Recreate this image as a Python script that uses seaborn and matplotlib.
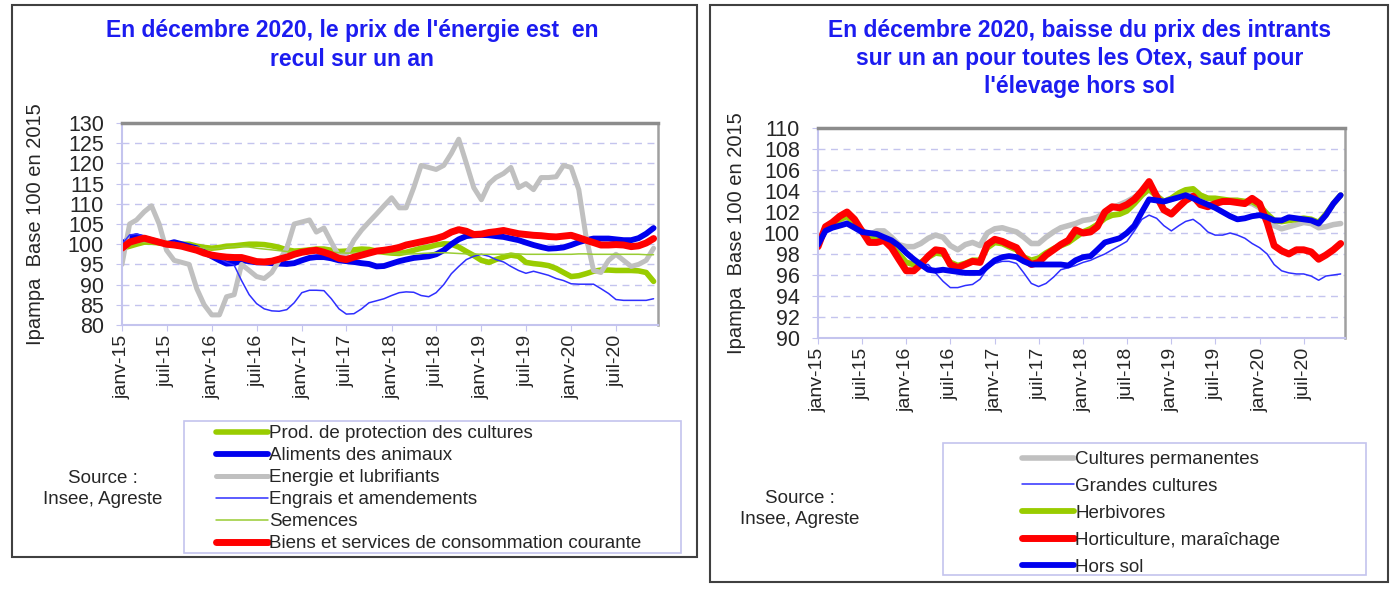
import pandas as pd
import seaborn as sns
import matplotlib.pyplot as plt
from matplotlib.patches import Rectangle

# Mois : janv-15 à déc-20
mois = pd.date_range("2015-01-01", periods=72, freq="MS")
etiquettes = ["janv-15", "juil-15", "janv-16", "juil-16", "janv-17", "juil-17",
              "janv-18", "juil-18", "janv-19", "juil-19", "janv-20", "juil-20"]

# --- Graphique de gauche : par poste de dépense ---
protection = [99, 99.5, 100, 100.5, 100.5, 100.3, 100.2, 100, 100, 100, 99.5, 99.2,
              99, 99.2, 99.5, 99.6, 99.8, 100, 100, 99.9, 99.6, 99.2, 98.6, 98.3,
              98.4, 98.6, 98.8, 98.8, 98.5, 98.2, 98.3, 98.6, 98.8, 98.7, 98.3, 98,
              97.8, 97.7, 98, 98.5, 99, 99.3, 99.8, 100.1, 100, 99.3, 98.2, 97.2,
              96, 95.5, 96.2, 96.8, 97.3, 97, 95.5, 95.2, 95, 94.7, 94, 93,
              92, 92.2, 92.7, 93.3, 93.6, 93.6, 93.5, 93.5, 93.5, 93.4, 93, 90.8]
aliments = [100, 101.5, 102, 101.5, 101, 100.5, 100, 100.5, 100, 99.5, 99, 98,
            97, 96, 95.2, 95.3, 96, 95.8, 95.5, 95.5, 95.3, 95.2, 95.1, 95.3,
            96, 96.6, 96.8, 96.8, 96.5, 96, 95.8, 95.6, 95.3, 95.1, 94.5, 94.6,
            95.2, 95.8, 96.2, 96.6, 96.8, 97, 97.5, 98.5, 100, 101.2, 102, 102.2,
            102.3, 102.2, 102, 101.8, 101.4, 101, 100.4, 99.8, 99.3, 98.9, 99, 99.2,
            99.8, 100.5, 101, 101.4, 101.4, 101.4, 101.2, 101, 101, 101.5, 102.6, 104]
energie = [95, 105, 106, 108, 109.5, 105, 98.5, 96, 95.5, 95, 89, 85,
           82.5, 82.5, 87, 87.5, 95, 93.5, 92, 91.5, 93, 96, 99, 105,
           105.5, 106, 103, 104, 100.5, 97, 97.5, 101, 103.5, 105.5, 107.5, 109.5,
           111.5, 109, 109, 114, 119.5, 119, 118.5, 119.5, 122.5, 126, 120, 114,
           111, 115, 116.5, 117.5, 119, 114, 115, 113.5, 116.5, 116.5, 116.7, 119.5,
           119, 113.5, 102, 93.5, 93, 96, 97.5, 96, 94.5, 95, 96, 99]
engrais = [100, 102.3, 102.5, 102, 101, 100, 100, 100.5, 99.5, 99, 98.5, 97.5,
           97, 96.5, 95.5, 94.8, 91, 87.5, 85.3, 84, 83.5, 83.4, 83.8, 85.5,
           88, 88.6, 88.6, 88.5, 86.5, 84, 82.7, 82.8, 84, 85.5, 86, 86.5,
           87.3, 88, 88.2, 88.1, 87.3, 87, 88, 90, 92.7, 94.5, 96.2, 97,
           97.5, 97, 96.2, 95.6, 94.5, 93.5, 92.8, 93.3, 92.8, 92.3, 91.5, 91,
           90.2, 90.1, 90.1, 90.1, 89, 87.8, 86.3, 86.1, 86.1, 86.1, 86.1, 86.5]
semences = [99.5, 100, 100.3, 100.5, 100.3, 100, 100, 99.8, 99.7, 99.6, 99.3, 99,
            98.8, 99, 99.3, 99.5, 99.5, 99.3, 99, 98.8, 98.6, 98.4, 98.2, 98.2,
            98.3, 98.4, 98.4, 98.3, 98.1, 97.9, 97.8, 97.8, 97.9, 97.9, 97.8, 97.7,
            97.6, 97.6, 97.6, 97.6, 97.7, 97.8, 97.9, 97.9, 97.8, 97.7, 97.6, 97.6,
            97.5, 97.5, 97.5, 97.5, 97.6, 97.6, 97.5, 97.5, 97.5, 97.5, 97.5, 97.5,
            97.5, 97.6, 97.6, 97.5, 97.5, 97.5, 97.5, 97.5, 97.5, 97.5, 97.4, 97.4]
biens = [99, 100.5, 101, 101.5, 101, 100.5, 100, 99.8, 99.5, 99, 98.5, 97.8,
         97.3, 97, 96.8, 96.7, 96.7, 96.2, 95.7, 95.6, 95.8, 96.3, 96.8, 97.5,
         98, 98.3, 98.5, 98, 97.4, 96.5, 96.2, 96.8, 97.3, 97.8, 98.3, 98.5,
         98.8, 99.2, 99.8, 100.2, 100.6, 101, 101.4, 102, 103, 103.6, 103.2, 102.4,
         102.5, 102.9, 103.1, 103.4, 103, 102.6, 102.4, 102.2, 102.1, 101.9, 101.8, 102,
         102.2, 101.6, 101, 100.4, 99.8, 99.8, 99.9, 99.8, 99.4, 99.6, 100.3, 101.4]

# --- Graphique de droite : par orientation technico-économique ---
permanentes = [98.8, 100.4, 100.8, 101.1, 101.4, 100.9, 100.3, 99.8, 100.2, 100.2, 99.6, 98.9,
               98.7, 98.7, 99, 99.5, 99.8, 99.6, 98.8, 98.4, 98.9, 99.1, 98.8, 100,
               100.4, 100.5, 100.3, 100.1, 99.6, 99, 99, 99.6, 100.1, 100.5, 100.7, 100.9,
               101.2, 101.3, 101.5, 102, 102.4, 102.7, 103, 103.4, 103.8, 104.1, 103.6, 103,
               103.2, 103.6, 103.9, 104, 103.6, 103.3, 103.2, 103.1, 103.1, 103.1, 102.9, 102.8,
               102.4, 101.5, 100.7, 100.4, 100.6, 100.8, 101, 100.9, 100.5, 100.6, 100.8, 100.9]
grandes = [99, 100.2, 100.5, 100.8, 100.9, 100.5, 100.1, 100, 99.9, 99.6, 99.2, 98.7,
           98, 97.4, 97, 97, 96.2, 95.4, 94.8, 94.8, 95, 95.1, 95.6, 96.6,
           97.1, 97.3, 97.3, 97.1, 96.2, 95.2, 94.9, 95.2, 95.8, 96.5, 96.7, 96.9,
           97.2, 97.4, 97.7, 98, 98.4, 98.8, 99.2, 100.2, 101.3, 101.7, 101.4, 100.7,
           100.2, 100.7, 101.1, 101.3, 100.8, 100.1, 99.8, 99.8, 100, 99.8, 99.5, 99,
           98.6, 98, 97, 96.4, 96.2, 96.1, 96.1, 95.9, 95.5, 95.9, 96, 96.1]
herbivores = [98.8, 100.5, 100.9, 101.3, 101.6, 101, 100.2, 99.6, 99.5, 99.4, 98.8, 98,
              97.2, 97, 97.2, 97.7, 98.1, 98, 97.2, 96.9, 97.1, 97.4, 97.4, 98.6,
              99.1, 99, 98.7, 98.4, 97.7, 97.4, 97.6, 98.1, 98.5, 98.8, 99.1, 99.6,
              100.1, 100.4, 100.8, 101.4, 101.7, 101.8, 102.1, 102.8, 103.6, 104.2, 103.5, 103,
              103.3, 103.8, 104.1, 104.2, 103.6, 103.3, 103.3, 103.2, 103.1, 103.1, 103, 103,
              102.6, 101.8, 101.2, 101.1, 101.2, 101.3, 101.4, 101.3, 101, 101.8, 102.8, 103.6]
horticulture = [98.7, 100.6, 101, 101.6, 102, 101.3, 100.2, 99.1, 99.1, 99.3, 98.6, 97.5,
                96.4, 96.4, 97, 97.8, 98.4, 98.3, 97, 96.7, 97, 97.3, 97.2, 98.9,
                99.4, 99.2, 98.9, 98.6, 97.6, 97, 97.2, 97.9, 98.4, 98.9, 99.3, 100.3,
                100, 100.1, 100.6, 102, 102.5, 102.4, 102.7, 103.2, 104, 104.9, 103.5, 102.2,
                101.8, 102.5, 103.1, 103.5, 102.7, 102.5, 102.8, 103, 103, 102.9, 102.8, 103.3,
                102.8, 101, 98.8, 98.3, 98, 98.4, 98.4, 98.2, 97.5, 97.9, 98.4, 99]
hors_sol = [98.9, 100.2, 100.5, 100.7, 100.9, 100.5, 100.1, 100, 99.9, 99.6, 99.3, 98.8,
            98.1, 97.5, 97, 96.5, 96.4, 96.5, 96.4, 96.3, 96.2, 96.2, 96.2, 96.8,
            97.4, 97.7, 97.8, 97.7, 97.3, 97, 97, 97, 97, 97, 96.9, 97.4,
            97.7, 97.8, 98.4, 99.1, 99.3, 99.5, 100, 100.7, 102, 103.2, 103.1, 103,
            103.2, 103.4, 103.6, 103.3, 103, 102.7, 102.4, 102, 101.6, 101.3, 101.4, 101.6,
            101.7, 101.5, 101.2, 101.2, 101.5, 101.4, 101.3, 101.2, 100.9, 101.7, 102.8, 103.6]

sns.set_style("white")
plt.rcParams['font.family'] = ['Liberation Sans', 'DejaVu Sans']

BLEU_TITRE = "#1c1cf0"
LAVANDE = "#c4c4ee"

fig = plt.figure(figsize=(14, 5.97), dpi=100)
W, H = 1400, 597


def fx(px):
    return px / W


def fy(py):
    return 1 - py / H


def cadre(x0, y0, x1, y1, couleur, lw):
    fig.add_artist(Rectangle((fx(x0), fy(y1)), fx(x1 - x0), (y1 - y0) / H,
                             transform=fig.transFigure, fill=False,
                             edgecolor=couleur, linewidth=lw))


def habiller(ax, ymin, ymax, pas):
    ax.set_xlim(mois[0], mois[-1] + pd.Timedelta(days=18))
    ax.set_ylim(ymin, ymax)
    ax.set_yticks(range(ymin, ymax + 1, pas))
    ax.set_yticklabels([str(v) for v in range(ymin, ymax + 1, pas)], fontsize=15.5)
    ax.set_xticks(mois[::6])
    ax.set_xticklabels(etiquettes, rotation=90, fontsize=14)
    ax.set_xlabel("")
    ax.set_ylabel("Ipampa  Base 100 en 2015", fontsize=14.5)
    ax.grid(axis='y', color=LAVANDE, linestyle=(0, (5, 4)), linewidth=1)
    ax.grid(axis='x', visible=False)
    for s in ["left", "bottom"]:
        ax.spines[s].set_color(LAVANDE)
        ax.spines[s].set_linewidth(1.5)
    ax.spines["top"].set_color("#8c8c8c")
    ax.spines["top"].set_linewidth(2.5)
    ax.spines["right"].set_color("#a0a0a0")
    ax.spines["right"].set_linewidth(1.8)
    ax.tick_params(axis='both', length=4, color=LAVANDE, bottom=True, left=True)
    ax.tick_params(axis='y', pad=9)
    ax.tick_params(axis='x', pad=3)
    leg = ax.get_legend()
    if leg is not None:
        leg.remove()


# ---------- Gauche ----------
ax1 = fig.add_axes([fx(122), fy(325), fx(658 - 122), (325 - 123) / H])
series_g = [
    ("Prod. de protection des cultures", protection, "#99cc00", 4.0),
    ("Aliments des animaux", aliments, "#0000ee", 4.2),
    ("Energie et lubrifiants", energie, "#c0c0c0", 3.6),
    ("Engrais et amendements", engrais, "#2f2fff", 1.1),
    ("Semences", semences, "#99cc33", 1.1),
    ("Biens et services de consommation courante", biens, "#ff0000", 5.0),
]
for nom, val, col, lw in series_g:
    sns.lineplot(x=mois, y=val, ax=ax1, color=col, linewidth=lw, label=nom)
habiller(ax1, 80, 130, 5)
ax1.yaxis.set_label_coords((45 - 122) / (658 - 122), 0.5)

h1, l1 = ax1.get_legend_handles_labels()
fig.legend(h1, l1, loc='upper left', bbox_to_anchor=(fx(216), fy(425)),
           frameon=False, fontsize=13.5, handlelength=2.75, handletextpad=0.1,
           labelspacing=0.26, borderaxespad=0, borderpad=0)
cadre(184, 421, 681, 553, LAVANDE, 1.2)

fig.text(fx(352), fy(31), "En décembre 2020, le prix de l'énergie est  en", ha='center',
         va='center', color=BLEU_TITRE, fontsize=16.5, fontweight='bold')
fig.text(fx(352), fy(59), "recul sur un an", ha='center', va='center', color=BLEU_TITRE,
         fontsize=16.5, fontweight='bold')
fig.text(fx(103), fy(489), "Source :\nInsee, Agreste", ha='center', va='center',
         fontsize=13.5, linespacing=1.3)
cadre(12, 5, 697, 557, "#404040", 1.5)

# ---------- Droite ----------
ax2 = fig.add_axes([fx(818), fy(338), fx(1345 - 818), (338 - 128) / H])
series_d = [
    ("Cultures permanentes", permanentes, "#c0c0c0", 4.0),
    ("Grandes cultures", grandes, "#2f2fff", 1.1),
    ("Herbivores", herbivores, "#99cc00", 4.2),
    ("Horticulture, maraîchage", horticulture, "#ff0000", 5.0),
    ("Hors sol", hors_sol, "#0000ee", 4.2),
]
for nom, val, col, lw in series_d:
    sns.lineplot(x=mois, y=val, ax=ax2, color=col, linewidth=lw, label=nom)
habiller(ax2, 90, 110, 2)
ax2.yaxis.set_label_coords((746 - 818) / (1345 - 818), 0.5)

h2, l2 = ax2.get_legend_handles_labels()
fig.legend(h2, l2, loc='upper left', bbox_to_anchor=(fx(1022), fy(451)),
           frameon=False, fontsize=13.5, handlelength=2.75, handletextpad=0.1,
           labelspacing=0.52, borderaxespad=0, borderpad=0)
cadre(943, 443, 1366, 575, LAVANDE, 1.2)

titre_d = ["En décembre 2020, baisse du prix des intrants",
           "sur un an pour toutes les Otex, sauf pour",
           "l'élevage hors sol"]
for i, ligne in enumerate(titre_d):
    fig.text(fx(1080), fy(31 + 27.5 * i), ligne, ha='center', va='center',
             color=BLEU_TITRE, fontsize=16.5, fontweight='bold')
fig.text(fx(800), fy(509), "Source :\nInsee, Agreste", ha='center', va='center',
         fontsize=13.5, linespacing=1.3)
cadre(710, 5, 1388, 582, "#404040", 1.5)

fig.savefig("out.png", dpi=100)
